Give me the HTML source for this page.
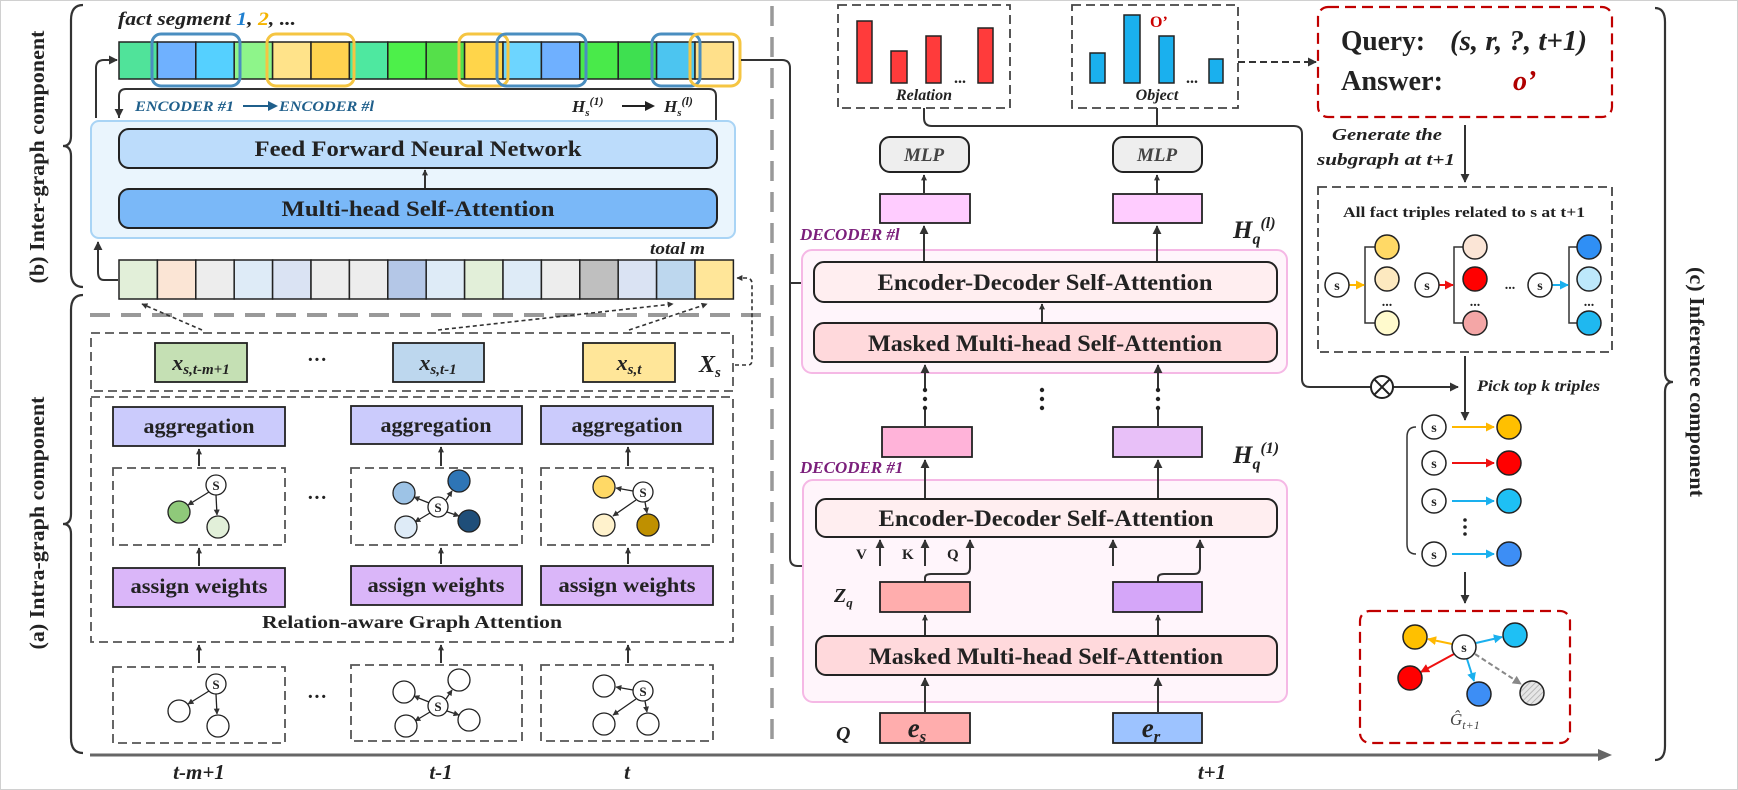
<!DOCTYPE html>
<html><head><meta charset="utf-8"><style>
html,body{margin:0;padding:0;background:#fff}
svg{display:block}
text{font-family:"Liberation Serif",serif;fill:#222}
.b{font-weight:bold}
.i{font-style:italic}
</style></head><body>
<svg width="1738" height="790" viewBox="0 0 1738 790" xmlns="http://www.w3.org/2000/svg">
<defs>
<marker id="a" viewBox="0 0 10 10" refX="9" refY="5" markerWidth="9" markerHeight="9" markerUnits="userSpaceOnUse" orient="auto"><path d="M0,0L10,5L0,10z" fill="#333"/></marker>
<marker id="as" viewBox="0 0 10 10" refX="9" refY="5" markerWidth="6" markerHeight="6" markerUnits="userSpaceOnUse" orient="auto"><path d="M0,0L10,5L0,10z" fill="#333"/></marker>
<marker id="ay" viewBox="0 0 10 10" refX="9" refY="5" markerWidth="9" markerHeight="9" markerUnits="userSpaceOnUse" orient="auto"><path d="M0,0L10,5L0,10z" fill="#ffb800"/></marker>
<marker id="ar" viewBox="0 0 10 10" refX="9" refY="5" markerWidth="9" markerHeight="9" markerUnits="userSpaceOnUse" orient="auto"><path d="M0,0L10,5L0,10z" fill="#ee1111"/></marker>
<marker id="ab" viewBox="0 0 10 10" refX="9" refY="5" markerWidth="9" markerHeight="9" markerUnits="userSpaceOnUse" orient="auto"><path d="M0,0L10,5L0,10z" fill="#1ab0ee"/></marker>
<marker id="ag" viewBox="0 0 10 10" refX="9" refY="5" markerWidth="9" markerHeight="9" markerUnits="userSpaceOnUse" orient="auto"><path d="M0,0L10,5L0,10z" fill="#888"/></marker>
<pattern id="hatch" width="4" height="4" patternUnits="userSpaceOnUse" patternTransform="rotate(45)"><rect width="4" height="4" fill="#e6e6e6"/><line x1="0" y1="0" x2="0" y2="4" stroke="#aaa" stroke-width="1.5"/></pattern>
</defs>
<rect x="0.5" y="0.5" width="1737" height="789" fill="#fff" stroke="#d0d0d0"/>

<!-- braces & side labels -->
<g fill="none" stroke="#333" stroke-width="2.2">
<path d="M83,5 Q71,5 71,20 L71,136 Q71,146 63,146 Q71,146 71,156 L71,272 Q71,287 83,287"/>
<path d="M83,295 Q71,295 71,310 L71,514 Q71,524 63,524 Q71,524 71,534 L71,738 Q71,753 83,753"/>
<path d="M1655,8 Q1665,8 1665,22 L1665,372 Q1665,382 1673,382 Q1665,382 1665,392 L1665,746 Q1665,760 1655,760"/>
</g>
<text class="b" font-size="21" text-anchor="middle" textLength="253" lengthAdjust="spacingAndGlyphs" transform="translate(44,157) rotate(-90)">(b) Inter-graph component</text>
<text class="b" font-size="21" text-anchor="middle" textLength="253" lengthAdjust="spacingAndGlyphs" transform="translate(44,523) rotate(-90)">(a) Intra-graph component</text>
<text class="b" font-size="21" text-anchor="middle" textLength="230" lengthAdjust="spacingAndGlyphs" transform="translate(1690,382) rotate(90)">(c) Inference component</text>

<!-- dividers -->
<line x1="772" y1="6" x2="772" y2="750" stroke="#999" stroke-width="3.5" stroke-dasharray="20,11"/>
<path d="M90,315 L772,315" stroke="#999" stroke-width="4" stroke-dasharray="20,11" fill="none"/>

<!-- fact segment -->
<text class="b i" font-size="19" x="118" y="25" textLength="178" lengthAdjust="spacingAndGlyphs">fact segment <tspan fill="#1f7fd0">1</tspan>, <tspan fill="#f5b400">2</tspan>, ...</text>

<!-- top bar -->
<g stroke="#222" stroke-width="1.5">
<rect x="119" y="42" width="38.4" height="37" fill="#50e39a"/>
<rect x="157.4" y="42" width="38.4" height="37" fill="#6fb1ff"/>
<rect x="195.8" y="42" width="38.4" height="37" fill="#55d0ff"/>
<rect x="234.2" y="42" width="38.4" height="37" fill="#8ef58a"/>
<rect x="272.6" y="42" width="38.4" height="37" fill="#ffe38a"/>
<rect x="311" y="42" width="38.4" height="37" fill="#ffd24f"/>
<rect x="349.4" y="42" width="38.4" height="37" fill="#4ee8a0"/>
<rect x="387.8" y="42" width="38.4" height="37" fill="#4df04a"/>
<rect x="426.2" y="42" width="38.4" height="37" fill="#55e04a"/>
<rect x="464.6" y="42" width="38.4" height="37" fill="#ffd54a"/>
<rect x="503" y="42" width="38.4" height="37" fill="#6dd5ff"/>
<rect x="541.4" y="42" width="38.4" height="37" fill="#6fb0ff"/>
<rect x="579.8" y="42" width="38.4" height="37" fill="#49ea4a"/>
<rect x="618.2" y="42" width="38.4" height="37" fill="#3ee050"/>
<rect x="656.6" y="42" width="38.4" height="37" fill="#4cc5f0"/>
<rect x="695" y="42" width="38.4" height="37" fill="#ffe08a"/>
</g>
<g fill="none" stroke-width="3">
<rect x="152" y="34" width="88" height="52" rx="9" stroke="#4a8ec0"/>
<rect x="267" y="34" width="87" height="52" rx="9" stroke="#f5c542"/>
<rect x="459" y="34" width="49" height="52" rx="9" stroke="#f5c542"/>
<rect x="497" y="34" width="89" height="52" rx="9" stroke="#4a8ec0"/>
<rect x="652" y="34" width="48" height="52" rx="9" stroke="#4a8ec0"/>
<rect x="690" y="34" width="50" height="52" rx="9" stroke="#f5c542"/>
</g>

<!-- encoder loop -->
<path d="M119,118 L119,96 Q119,89 126,89 L709,89 Q716,89 716,96 L716,121" fill="none" stroke="#333" stroke-width="2"/>
<path d="M119,100 L119,117" stroke="#333" stroke-width="2" marker-end="url(#a)"/>
<text class="b i" font-size="15" fill="#1f5f8b" x="135" y="111" textLength="99" lengthAdjust="spacingAndGlyphs" style="fill:#1f5f8b">ENCODER #1</text>
<line x1="243" y1="106" x2="275" y2="106" stroke="#1f5f8b" stroke-width="2"/><path d="M268,101 L278,106 L268,111z" fill="#1f5f8b"/>
<text class="b i" font-size="15" x="279" y="111" textLength="95" lengthAdjust="spacingAndGlyphs" style="fill:#1f5f8b">ENCODER #l</text>
<text class="b i" font-size="17" x="572" y="112">H<tspan font-size="11" dy="4">s</tspan><tspan font-size="12" dy="-11">(1)</tspan></text>
<line x1="622" y1="106" x2="650" y2="106" stroke="#222" stroke-width="2"/><path d="M645,101 L655,106 L645,111z" fill="#222"/>
<text class="b i" font-size="17" x="664" y="112">H<tspan font-size="11" dy="4">s</tspan><tspan font-size="12" dy="-11">(l)</tspan></text>

<!-- left feedback -->
<path d="M96,118 L96,68 Q96,60 104,60 L117,60" fill="none" stroke="#333" stroke-width="2" marker-end="url(#a)"/>
<path d="M118,280 L104,280 Q98,280 98,272 L98,242" fill="none" stroke="#333" stroke-width="2" marker-end="url(#a)"/>

<!-- encoder box -->
<rect x="91" y="121" width="644" height="117" rx="8" fill="#eaf5fd" stroke="#a9d4f5" stroke-width="2"/>
<rect x="119" y="129" width="598" height="39" rx="10" fill="#bcdcfb" stroke="#222" stroke-width="2"/>
<text class="b" font-size="22" x="418" y="156" text-anchor="middle" textLength="327" lengthAdjust="spacingAndGlyphs">Feed Forward Neural Network</text>
<line x1="425" y1="188" x2="425" y2="170" stroke="#333" stroke-width="2" marker-end="url(#as)"/>
<rect x="119" y="189" width="598" height="39" rx="10" fill="#7ab8f8" stroke="#222" stroke-width="2"/>
<text class="b" font-size="22" x="418" y="216" text-anchor="middle" textLength="273" lengthAdjust="spacingAndGlyphs">Multi-head Self-Attention</text>
<text class="b i" font-size="17" x="650" y="254" textLength="55" lengthAdjust="spacingAndGlyphs">total m</text>

<!-- bottom bar -->
<g stroke="#222" stroke-width="1.5">
<rect x="119" y="260" width="38.4" height="39" fill="#e2efd9"/>
<rect x="157.4" y="260" width="38.4" height="39" fill="#fbe5d5"/>
<rect x="195.8" y="260" width="38.4" height="39" fill="#ededed"/>
<rect x="234.2" y="260" width="38.4" height="39" fill="#deebf7"/>
<rect x="272.6" y="260" width="38.4" height="39" fill="#dae3f3"/>
<rect x="311" y="260" width="38.4" height="39" fill="#ededed"/>
<rect x="349.4" y="260" width="38.4" height="39" fill="#ededed"/>
<rect x="387.8" y="260" width="38.4" height="39" fill="#b4c7e7"/>
<rect x="426.2" y="260" width="38.4" height="39" fill="#deebf7"/>
<rect x="464.6" y="260" width="38.4" height="39" fill="#e2efd9"/>
<rect x="503" y="260" width="38.4" height="39" fill="#deebf7"/>
<rect x="541.4" y="260" width="38.4" height="39" fill="#ededed"/>
<rect x="579.8" y="260" width="38.4" height="39" fill="#bfbfbf"/>
<rect x="618.2" y="260" width="38.4" height="39" fill="#dae3f3"/>
<rect x="656.6" y="260" width="38.4" height="39" fill="#bdd7ee"/>
<rect x="695" y="260" width="38.4" height="39" fill="#ffe699"/>
</g>

<!-- dashed arrows to bottom bar -->
<g stroke="#333" stroke-width="1.6" stroke-dasharray="4,3" fill="none">
<path d="M202,330 L142,304" marker-end="url(#as)"/>
<path d="M438,330 L673,304" marker-end="url(#as)"/>
<path d="M629,330 L707,304" marker-end="url(#as)"/>
<path d="M735,365 L748,365 Q752,365 752,360 L752,284 Q752,278 746,278 L737,278" marker-end="url(#as)"/>
</g>

<!-- X_s box -->
<rect x="91" y="333" width="642" height="58" fill="none" stroke="#555" stroke-width="1.8" stroke-dasharray="9,5"/>
<rect x="155" y="343" width="92" height="39" fill="#c5e0b4" stroke="#222" stroke-width="1.8"/>
<text class="b i" font-size="22" x="201" y="370" text-anchor="middle">x<tspan font-size="15" dy="4">s,t-m+1</tspan></text>
<text class="b" font-size="20" x="317" y="366" text-anchor="middle">···</text>
<rect x="393" y="343" width="91" height="39" fill="#bdd7ee" stroke="#222" stroke-width="1.8"/>
<text class="b i" font-size="22" x="438" y="370" text-anchor="middle">x<tspan font-size="15" dy="4">s,t-1</tspan></text>
<rect x="583" y="343" width="92" height="39" fill="#ffe699" stroke="#222" stroke-width="1.8"/>
<text class="b i" font-size="22" x="629" y="370" text-anchor="middle">x<tspan font-size="15" dy="4">s,t</tspan></text>
<text class="b i" font-size="24" x="699" y="372">X<tspan font-size="15" dy="5">s</tspan></text>

<!-- RGA box -->
<rect x="91" y="397" width="642" height="245" fill="none" stroke="#555" stroke-width="1.8" stroke-dasharray="9,5"/>
<g stroke="#222" stroke-width="1.8">
<rect x="113" y="407" width="172" height="39" fill="#cbcbfc"/>
<rect x="351" y="406" width="171" height="38" fill="#cbcbfc"/>
<rect x="541" y="406" width="172" height="38" fill="#cbcbfc"/>
<rect x="113" y="568" width="172" height="39" fill="#dab6f9"/>
<rect x="351" y="566" width="171" height="39" fill="#dab6f9"/>
<rect x="541" y="566" width="172" height="39" fill="#dab6f9"/>
</g>
<g class="b" font-size="21" text-anchor="middle">
<text class="b" x="199" y="433" textLength="111" lengthAdjust="spacingAndGlyphs">aggregation</text>
<text class="b" x="436" y="432" textLength="111" lengthAdjust="spacingAndGlyphs">aggregation</text>
<text class="b" x="627" y="432" textLength="111" lengthAdjust="spacingAndGlyphs">aggregation</text>
<text class="b" x="199" y="593" textLength="137" lengthAdjust="spacingAndGlyphs">assign weights</text>
<text class="b" x="436" y="592" textLength="137" lengthAdjust="spacingAndGlyphs">assign weights</text>
<text class="b" x="627" y="592" textLength="137" lengthAdjust="spacingAndGlyphs">assign weights</text>
</g>
<text class="b" font-size="18" x="412" y="628" text-anchor="middle" textLength="300" lengthAdjust="spacingAndGlyphs">Relation-aware Graph Attention</text>
<g fill="none" stroke="#555" stroke-width="1.8" stroke-dasharray="9,5">
<rect x="113" y="468" width="172" height="77"/>
<rect x="351" y="468" width="171" height="77"/>
<rect x="541" y="468" width="172" height="77"/>
<rect x="113" y="667" width="172" height="76"/>
<rect x="351" y="665" width="171" height="76"/>
<rect x="541" y="665" width="172" height="76"/>
</g>
<g stroke="#333" stroke-width="2">
<line x1="199" y1="466" x2="199" y2="449" marker-end="url(#as)"/>
<line x1="441" y1="466" x2="441" y2="447" marker-end="url(#as)"/>
<line x1="628" y1="466" x2="628" y2="447" marker-end="url(#as)"/>
<line x1="199" y1="566" x2="199" y2="548" marker-end="url(#as)"/>
<line x1="441" y1="564" x2="441" y2="548" marker-end="url(#as)"/>
<line x1="628" y1="564" x2="628" y2="548" marker-end="url(#as)"/>
<line x1="199" y1="663" x2="199" y2="645" marker-end="url(#as)"/>
<line x1="441" y1="663" x2="441" y2="645" marker-end="url(#as)"/>
<line x1="628" y1="663" x2="628" y2="645" marker-end="url(#as)"/>
</g>
<text class="b" font-size="20" x="317" y="504" text-anchor="middle">···</text>
<text class="b" font-size="20" x="317" y="703" text-anchor="middle">···</text>

<!-- graphs upper -->
<g stroke="#222" stroke-width="1.3">
<line x1="209" y1="492" x2="188" y2="505" marker-end="url(#as)"/>
<line x1="216" y1="495" x2="217" y2="515" marker-end="url(#as)"/>
<circle cx="179" cy="512" r="11" fill="#8fc97a"/><circle cx="218" cy="527" r="11" fill="#e2f0d9"/>
<circle cx="216" cy="485" r="10" fill="#fff"/>
<line x1="429" y1="503" x2="414" y2="497" marker-end="url(#as)"/>
<line x1="446" y1="500" x2="452" y2="491" marker-end="url(#as)"/>
<line x1="430" y1="513" x2="415" y2="522" marker-end="url(#as)"/>
<line x1="447" y1="512" x2="459" y2="516" marker-end="url(#as)"/>
<circle cx="404" cy="493" r="11" fill="#9dc3e6"/><circle cx="459" cy="481" r="11" fill="#2e75b6"/>
<circle cx="406" cy="527" r="11" fill="#deebf7"/><circle cx="469" cy="521" r="11" fill="#1f4e79"/>
<circle cx="438" cy="507" r="10" fill="#fff"/>
<line x1="633" y1="491" x2="616" y2="488" marker-end="url(#as)"/>
<line x1="636" y1="500" x2="613" y2="516" marker-end="url(#as)"/>
<line x1="645" y1="502" x2="647" y2="513" marker-end="url(#as)"/>
<circle cx="604" cy="487" r="11" fill="#ffd966"/><circle cx="604" cy="525" r="11" fill="#fff2cc"/><circle cx="648" cy="525" r="11" fill="#bf9000"/>
<circle cx="643" cy="492" r="10" fill="#fff"/>
</g>
<!-- graphs lower -->
<g stroke="#222" stroke-width="1.3" fill="#fff">
<line x1="209" y1="691" x2="188" y2="704" marker-end="url(#as)"/>
<line x1="216" y1="694" x2="217" y2="714" marker-end="url(#as)"/>
<circle cx="179" cy="711" r="11"/><circle cx="218" cy="726" r="11"/><circle cx="216" cy="684" r="10"/>
<line x1="429" y1="702" x2="414" y2="696" marker-end="url(#as)"/>
<line x1="446" y1="699" x2="452" y2="690" marker-end="url(#as)"/>
<line x1="430" y1="712" x2="415" y2="721" marker-end="url(#as)"/>
<line x1="447" y1="711" x2="459" y2="715" marker-end="url(#as)"/>
<circle cx="404" cy="692" r="11"/><circle cx="459" cy="680" r="11"/><circle cx="406" cy="726" r="11"/><circle cx="469" cy="720" r="11"/><circle cx="438" cy="706" r="10"/>
<line x1="633" y1="690" x2="616" y2="687" marker-end="url(#as)"/>
<line x1="636" y1="699" x2="613" y2="715" marker-end="url(#as)"/>
<line x1="645" y1="701" x2="647" y2="712" marker-end="url(#as)"/>
<circle cx="604" cy="686" r="11"/><circle cx="604" cy="724" r="11"/><circle cx="648" cy="724" r="11"/><circle cx="643" cy="691" r="10"/>
</g>
<g class="b" font-size="13" text-anchor="middle">
<text class="b" x="216" y="490">S</text><text class="b" x="438" y="512">S</text><text class="b" x="643" y="497">S</text>
<text class="b" x="216" y="689">S</text><text class="b" x="438" y="711">S</text><text class="b" x="643" y="696">S</text>
</g>

<!-- axis -->
<line x1="90" y1="755" x2="1600" y2="755" stroke="#666" stroke-width="3"/>
<path d="M1598,749 L1612,755 L1598,761z" fill="#666"/>
<g class="b i" font-size="21" text-anchor="middle">
<text class="b i" x="199" y="779">t-m+1</text>
<text class="b i" x="441" y="779">t-1</text>
<text class="b i" x="627" y="779">t</text>
<text class="b i" x="1212" y="779">t+1</text>
</g>

<!-- encoder output line -->
<path d="M741,60 L782,60 Q790,60 790,68 L790,558 Q790,566 798,566 L1150,566 Q1158,566 1158,558 L1158,542" fill="none" stroke="#333" stroke-width="2" marker-end="url(#a)"/>
<line x1="790" y1="283" x2="812" y2="283" stroke="#333" stroke-width="2" marker-end="url(#a)"/>

<!-- decoder #l -->
<text class="b i" font-size="17" x="800" y="240" style="fill:#7b1f7b">DECODER #l</text>
<text class="b i" font-size="25" x="1233" y="238">H<tspan font-size="16" dy="6">q</tspan><tspan font-size="16" dy="-16">(l)</tspan></text>
<rect x="802" y="250" width="485" height="123" rx="10" fill="#fff5fb" stroke="#f5b8e5" stroke-width="2"/>
<rect x="814" y="262" width="463" height="40" rx="10" fill="#ffeef0" stroke="#222" stroke-width="2"/>
<text class="b" font-size="23" x="1045" y="290" text-anchor="middle" textLength="335" lengthAdjust="spacingAndGlyphs">Encoder-Decoder Self-Attention</text>
<line x1="1042" y1="322" x2="1042" y2="304" stroke="#333" stroke-width="2" marker-end="url(#as)"/>
<rect x="814" y="323" width="463" height="39" rx="10" fill="#ffd9dc" stroke="#222" stroke-width="2"/>
<text class="b" font-size="23" x="1045" y="351" text-anchor="middle" textLength="354" lengthAdjust="spacingAndGlyphs">Masked Multi-head Self-Attention</text>

<!-- outputs -->
<rect x="880" y="194" width="90" height="29" fill="#ffccff" stroke="#222" stroke-width="1.8"/>
<rect x="1113" y="194" width="89" height="29" fill="#ffccff" stroke="#222" stroke-width="1.8"/>
<rect x="880" y="137" width="89" height="35" rx="10" fill="#eeeeee" stroke="#222" stroke-width="2"/>
<rect x="1113" y="137" width="89" height="35" rx="10" fill="#eeeeee" stroke="#222" stroke-width="2"/>
<text class="b i" font-size="19" x="924" y="161" text-anchor="middle" style="fill:#444">MLP</text>
<text class="b i" font-size="19" x="1157" y="161" text-anchor="middle" style="fill:#444">MLP</text>
<g stroke="#333" stroke-width="2">
<line x1="924" y1="193" x2="924" y2="175" marker-end="url(#as)"/>
<line x1="1157" y1="193" x2="1157" y2="175" marker-end="url(#as)"/>
<line x1="924" y1="261" x2="924" y2="226" marker-end="url(#a)"/>
<line x1="1157" y1="261" x2="1157" y2="226" marker-end="url(#a)"/>
<line x1="925" y1="390" x2="925" y2="365" marker-end="url(#a)"/>
<line x1="1158" y1="390" x2="1158" y2="365" marker-end="url(#a)"/>
<line x1="925" y1="408" x2="925" y2="426"/>
<line x1="1158" y1="408" x2="1158" y2="426"/>
</g>
<g fill="#222">
<circle cx="925" cy="390" r="2.2"/><circle cx="925" cy="399" r="2.2"/><circle cx="925" cy="408" r="2.2"/>
<circle cx="1042" cy="390" r="2.2"/><circle cx="1042" cy="399" r="2.2"/><circle cx="1042" cy="408" r="2.2"/>
<circle cx="1158" cy="390" r="2.2"/><circle cx="1158" cy="399" r="2.2"/><circle cx="1158" cy="408" r="2.2"/>
</g>

<!-- relation/object -->
<rect x="838" y="5" width="172" height="103" fill="none" stroke="#444" stroke-width="1.8" stroke-dasharray="9,5"/>
<g fill="#ff3b3b" stroke="#222" stroke-width="1.5">
<rect x="857" y="21" width="15" height="62"/><rect x="891" y="51" width="16" height="32"/><rect x="926" y="36" width="15" height="47"/><rect x="978" y="28" width="15" height="55"/>
</g>
<text class="b" font-size="16" x="960" y="83" text-anchor="middle">...</text>
<text class="b i" font-size="16" x="924" y="100" text-anchor="middle">Relation</text>
<rect x="1072" y="5" width="166" height="103" fill="none" stroke="#444" stroke-width="1.8" stroke-dasharray="9,5"/>
<g fill="#1ab0ee" stroke="#222" stroke-width="1.5">
<rect x="1090" y="53" width="15" height="30"/><rect x="1124" y="15" width="16" height="68"/><rect x="1159" y="36" width="15" height="47"/><rect x="1209" y="59" width="14" height="24"/>
</g>
<text class="b" font-size="16" x="1192" y="83" text-anchor="middle">...</text>
<text class="b" font-size="16" x="1150" y="27" style="fill:#cc0000">O’</text>
<text class="b i" font-size="16" x="1157" y="100" text-anchor="middle">Object</text>
<path d="M924,108 L924,118 Q924,126 932,126 L1294,126 Q1302,126 1302,134 L1302,379 Q1302,387 1310,387 L1458,387" fill="none" stroke="#333" stroke-width="2" marker-end="url(#a)"/>
<line x1="1157" y1="108" x2="1157" y2="126" stroke="#333" stroke-width="2"/>
<circle cx="1382" cy="387" r="11" fill="#fff" stroke="#222" stroke-width="2"/>
<path d="M1374,379 L1390,395 M1390,379 L1374,395" stroke="#222" stroke-width="2"/>
<path d="M1238,62 L1316,62" stroke="#333" stroke-width="2" stroke-dasharray="7,4" fill="none" marker-end="url(#a)"/>

<!-- decoder #1 -->
<rect x="882" y="427" width="90" height="30" fill="#ffb3d9" stroke="#222" stroke-width="1.8"/>
<rect x="1113" y="427" width="89" height="30" fill="#e8c0f8" stroke="#222" stroke-width="1.8"/>
<text class="b i" font-size="17" x="800" y="473" style="fill:#7b1f7b">DECODER #1</text>
<text class="b i" font-size="25" x="1233" y="463">H<tspan font-size="16" dy="6">q</tspan><tspan font-size="16" dy="-16">(1)</tspan></text>
<rect x="803" y="480" width="484" height="222" rx="10" fill="#fff5fb" stroke="#f5b8e5" stroke-width="2"/>
<rect x="816" y="499" width="461" height="38" rx="10" fill="#ffeef0" stroke="#222" stroke-width="2"/>
<text class="b" font-size="23" x="1046" y="526" text-anchor="middle" textLength="335" lengthAdjust="spacingAndGlyphs">Encoder-Decoder Self-Attention</text>
<g stroke="#333" stroke-width="2" fill="none">
<line x1="925" y1="498" x2="925" y2="460" marker-end="url(#a)"/>
<line x1="1158" y1="498" x2="1158" y2="460" marker-end="url(#a)"/>
<line x1="880" y1="566" x2="880" y2="540" marker-end="url(#a)"/>
<line x1="925" y1="566" x2="925" y2="540" marker-end="url(#a)"/>
<line x1="1113" y1="566" x2="1113" y2="540" marker-end="url(#a)"/>
<path d="M925,582 L925,578 Q925,574 931,574 L964,574 Q970,574 970,568 L970,540" marker-end="url(#a)"/>
<path d="M1158,582 L1158,578 Q1158,574 1164,574 L1194,574 Q1200,574 1200,568 L1200,540" marker-end="url(#a)"/>
<line x1="925" y1="635" x2="925" y2="615" marker-end="url(#as)"/>
<line x1="1158" y1="635" x2="1158" y2="615" marker-end="url(#as)"/>
<line x1="925" y1="712" x2="925" y2="678" marker-end="url(#a)"/>
<line x1="1158" y1="712" x2="1158" y2="678" marker-end="url(#a)"/>
</g>
<g class="b" font-size="15">
<text class="b" x="856" y="559">V</text><text class="b" x="902" y="559">K</text><text class="b" x="947" y="559">Q</text>
</g>
<text class="b i" font-size="20" x="834" y="602">Z<tspan font-size="13" dy="5">q</tspan></text>
<rect x="880" y="582" width="90" height="30" fill="#ffadad" stroke="#222" stroke-width="1.8"/>
<rect x="1113" y="582" width="89" height="30" fill="#d5a6f9" stroke="#222" stroke-width="1.8"/>
<rect x="816" y="636" width="461" height="39" rx="10" fill="#ffd9dc" stroke="#222" stroke-width="2"/>
<text class="b" font-size="23" x="1046" y="664" text-anchor="middle" textLength="354" lengthAdjust="spacingAndGlyphs">Masked Multi-head Self-Attention</text>
<text class="b i" font-size="20" x="836" y="740">Q</text>
<rect x="880" y="713" width="90" height="30" fill="#ffadad" stroke="#222" stroke-width="1.8"/>
<rect x="1113" y="713" width="89" height="30" fill="#9dc3ff" stroke="#222" stroke-width="1.8"/>
<text class="b i" font-size="27" x="917" y="737" text-anchor="middle">e<tspan font-size="17" dy="5">s</tspan></text>
<text class="b i" font-size="27" x="1151" y="737" text-anchor="middle">e<tspan font-size="17" dy="5">r</tspan></text>

<!-- query -->
<rect x="1318" y="7" width="294" height="110" rx="10" fill="none" stroke="#c00000" stroke-width="2.2" stroke-dasharray="11,6"/>
<text class="b" font-size="28" x="1341" y="50" textLength="84" lengthAdjust="spacingAndGlyphs">Query:</text>
<text class="b i" font-size="28" x="1450" y="50" textLength="137" lengthAdjust="spacingAndGlyphs">(s, r, ?, t+1)</text>
<text class="b" font-size="28" x="1341" y="90" textLength="102" lengthAdjust="spacingAndGlyphs">Answer:</text>
<text class="b i" font-size="28" x="1513" y="90" style="fill:#b00000">o’</text>
<line x1="1465" y1="125" x2="1465" y2="182" stroke="#333" stroke-width="2" marker-end="url(#a)"/>
<text class="b i" font-size="17" x="1387" y="140" text-anchor="middle" textLength="110" lengthAdjust="spacingAndGlyphs">Generate the</text>
<text class="b i" font-size="17" x="1386" y="165" text-anchor="middle" textLength="138" lengthAdjust="spacingAndGlyphs">subgraph at t+1</text>

<!-- triples -->
<rect x="1318" y="187" width="294" height="165" fill="none" stroke="#444" stroke-width="1.8" stroke-dasharray="9,5"/>
<text class="b" font-size="15" x="1464" y="217" text-anchor="middle" textLength="242" lengthAdjust="spacingAndGlyphs">All fact triples related to s at t+1</text>
<g fill="none" stroke="#333" stroke-width="1.5">
<path d="M1375,247 L1365,247 L1365,323 L1375,323"/>
<path d="M1464,247 L1454,247 L1454,323 L1464,323"/>
<path d="M1579,247 L1569,247 L1569,323 L1579,323"/>
</g>
<line x1="1349" y1="285" x2="1364" y2="285" stroke="#ffb800" stroke-width="2" marker-end="url(#ay)"/>
<line x1="1439" y1="285" x2="1453" y2="285" stroke="#ee1111" stroke-width="2" marker-end="url(#ar)"/>
<line x1="1552" y1="285" x2="1568" y2="285" stroke="#1ab0ee" stroke-width="2" marker-end="url(#ab)"/>
<g stroke="#222" stroke-width="1.5">
<circle cx="1387" cy="247" r="12" fill="#ffd966"/><circle cx="1387" cy="279" r="12" fill="#fde9c0"/><circle cx="1387" cy="323" r="12" fill="#fffacd"/>
<circle cx="1475" cy="247" r="12" fill="#fbe5d6"/><circle cx="1475" cy="279" r="12" fill="#ff0000"/><circle cx="1475" cy="323" r="12" fill="#f4a6a6"/>
<circle cx="1589" cy="247" r="12" fill="#2f8ff5"/><circle cx="1589" cy="279" r="12" fill="#bde8fb"/><circle cx="1589" cy="323" r="12" fill="#1fb8f0"/>
<circle cx="1337" cy="285" r="12" fill="#fff"/><circle cx="1427" cy="285" r="12" fill="#fff"/><circle cx="1540" cy="285" r="12" fill="#fff"/>
</g>
<g class="b" font-size="14" text-anchor="middle">
<text class="b" x="1337" y="290">s</text><text class="b" x="1427" y="290">s</text><text class="b" x="1540" y="290">s</text>
<text class="b" x="1387" y="306">...</text><text class="b" x="1475" y="306">...</text><text class="b" x="1589" y="306">...</text>
<text class="b" x="1510" y="289">...</text>
</g>
<line x1="1465" y1="356" x2="1465" y2="420" stroke="#333" stroke-width="2" marker-end="url(#a)"/>
<text class="b i" font-size="16" x="1477" y="391" textLength="123" lengthAdjust="spacingAndGlyphs">Pick top k triples</text>

<!-- top k -->
<path d="M1416,427 Q1407,427 1407,437 L1407,544 Q1407,554 1416,554" fill="none" stroke="#333" stroke-width="1.5"/>
<line x1="1452" y1="427" x2="1494" y2="427" stroke="#ffb800" stroke-width="2" marker-end="url(#ay)"/>
<line x1="1452" y1="463" x2="1494" y2="463" stroke="#ee1111" stroke-width="2" marker-end="url(#ar)"/>
<line x1="1452" y1="501" x2="1494" y2="501" stroke="#1ab0ee" stroke-width="2" marker-end="url(#ab)"/>
<line x1="1452" y1="554" x2="1494" y2="554" stroke="#1ab0ee" stroke-width="2" marker-end="url(#ab)"/>
<g stroke="#222" stroke-width="1.5">
<circle cx="1434" cy="427" r="12" fill="#fff"/><circle cx="1434" cy="463" r="12" fill="#fff"/><circle cx="1434" cy="501" r="12" fill="#fff"/><circle cx="1434" cy="554" r="12" fill="#fff"/>
<circle cx="1509" cy="427" r="12" fill="#ffc000"/><circle cx="1509" cy="463" r="12" fill="#ff0000"/><circle cx="1509" cy="501" r="12" fill="#1ec0f5"/><circle cx="1509" cy="554" r="12" fill="#3d8ef5"/>
</g>
<g class="b" font-size="14" text-anchor="middle">
<text class="b" x="1434" y="432">s</text><text class="b" x="1434" y="468">s</text><text class="b" x="1434" y="506">s</text><text class="b" x="1434" y="559">s</text>
</g>
<g fill="#222"><circle cx="1465" cy="520" r="1.8"/><circle cx="1465" cy="527" r="1.8"/><circle cx="1465" cy="534" r="1.8"/></g>
<line x1="1465" y1="572" x2="1465" y2="603" stroke="#333" stroke-width="2" marker-end="url(#a)"/>

<!-- result graph -->
<rect x="1360" y="611" width="210" height="132" rx="10" fill="none" stroke="#c00000" stroke-width="2.2" stroke-dasharray="11,6"/>
<line x1="1452" y1="644" x2="1428" y2="639" stroke="#ffb800" stroke-width="2" marker-end="url(#ay)"/>
<line x1="1476" y1="643" x2="1502" y2="637" stroke="#1ab0ee" stroke-width="2" marker-end="url(#ab)"/>
<line x1="1454" y1="654" x2="1421" y2="672" stroke="#ee1111" stroke-width="2" marker-end="url(#ar)"/>
<line x1="1467" y1="659" x2="1474" y2="681" stroke="#1ab0ee" stroke-width="2" marker-end="url(#ab)"/>
<line x1="1475" y1="654" x2="1521" y2="684" stroke="#888" stroke-width="2" stroke-dasharray="5,3" marker-end="url(#ag)"/>
<g stroke="#222" stroke-width="1.5">
<circle cx="1415" cy="637" r="12" fill="#ffc000"/><circle cx="1515" cy="635" r="12" fill="#1ec0f5"/>
<circle cx="1410" cy="678" r="12" fill="#ff0000"/><circle cx="1479" cy="694" r="12" fill="#3d8ef5"/>
<circle cx="1532" cy="693" r="12" fill="url(#hatch)"/>
<circle cx="1464" cy="647" r="12" fill="#fff"/>
</g>
<text class="b" font-size="14" x="1464" y="652" text-anchor="middle">s</text>
<text class="i" font-size="17" x="1450" y="725" style="fill:#444">Ĝ<tspan font-size="12" dy="4">t+1</tspan></text>
</svg>
</body></html>
